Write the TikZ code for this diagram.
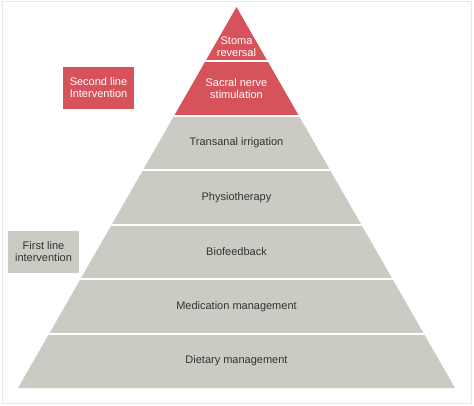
\documentclass[tikz,border=0pt]{standalone}
\usepackage{fontspec}
\setmainfont{Liberation Sans}
\usepackage{tikz}
\usetikzlibrary{positioning,calc}
\definecolor{rosered}{HTML}{D6535C}
\definecolor{stone}{HTML}{CBCAC3}
\definecolor{ink}{HTML}{333333}
\definecolor{framegrey}{HTML}{E8E8E8}
\tikzset{
  redlayer/.style={fill=rosered},
  greylayer/.style={fill=stone},
  gapline/.style={draw=white, line width=2pt},
  layerlabel/.style={font=\fontsize{11}{12}\selectfont, text=#1, align=center,
    inner sep=0pt},
  layerlabel/.default=ink,
  sidebox/.style={rectangle, fill=#1, minimum width=71pt, minimum height=42pt,
    font=\fontsize{11}{12}\selectfont, align=center, inner sep=2pt},
}
\begin{document}
\begin{tikzpicture}[x=1pt,y=-1pt]
\useasboundingbox (0,0) rectangle (474,405);
\draw[framegrey, line width=0.8pt] (2,1) rectangle (471,403);
% pyramid corners
\coordinate (apex) at (236.5,7);
\coordinate (baseL) at (18,388);
\coordinate (baseR) at (455,388);
\begin{scope}
  \clip (apex) -- (baseL) -- (baseR) -- cycle;
  \fill[redlayer] (0,0) rectangle (474,116);
  \fill[greylayer] (0,116) rectangle (474,390);
  \draw[gapline] (0,61.4) -- (474,61.4);
  \draw[gapline] (0,116) -- (474,116);
  \draw[gapline] (0,170.4) -- (474,170.4);
  \draw[gapline] (0,224.9) -- (474,224.9);
  \draw[gapline] (0,279.3) -- (474,279.3);
  \draw[gapline] (0,333.7) -- (474,333.7);
\end{scope}
% layer labels
\node[layerlabel=white] (stoma) at (236.5,47) {Stoma\\reversal};
\node[layerlabel=white] (sacral) at (236.5,89) {Sacral nerve\\stimulation};
\node[layerlabel] (transanal) at (236.5,143) {Transanal irrigation};
\node[layerlabel] (physio) at (236.5,197.5) {Physiotherapy};
\node[layerlabel] (biofeed) at (236.5,252) {Biofeedback};
\node[layerlabel] (medic) at (236.5,306.5) {Medication management};
\node[layerlabel] (diet) at (236.5,361) {Dietary management};
% side labels
\node[sidebox=rosered, text=white] (second) at (98.5,88) {Second line\\Intervention};
\node[sidebox=stone, text=ink] (first) at (43.5,252) {First line\\intervention};
\end{tikzpicture}
\end{document}
